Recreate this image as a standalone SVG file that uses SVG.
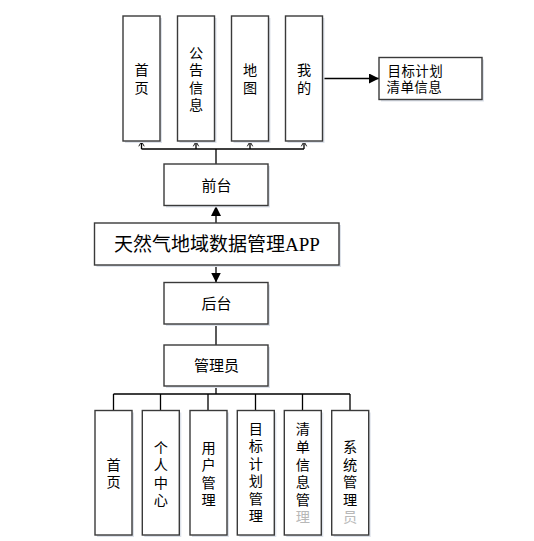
<svg xmlns="http://www.w3.org/2000/svg" width="534" height="541" viewBox="0 0 534 541">
<style>
.box{fill:#fff;stroke:#3a3a3a;stroke-width:1.4}
.sh{fill:#dde2ea}
.t{font-family:"Noto Sans CJK SC","Liberation Sans",sans-serif;font-size:15px;fill:#000;text-anchor:middle}
.c{font-family:"Noto Sans CJK SC","Liberation Sans",sans-serif;font-size:14.2px;fill:#000;text-anchor:middle}
.ts{font-family:"Noto Sans CJK SC","Liberation Sans",sans-serif;font-size:13.5px;fill:#000;letter-spacing:0.4px}
.tt{font-family:"Liberation Serif","Noto Sans CJK SC",serif;font-size:19px;fill:#000;text-anchor:middle}
.ln{fill:none;stroke:#000;stroke-width:1.3}
.ghost{fill:#b8b8b8}
</style>
<defs>
<marker id="fa" viewBox="0 0 10 10" refX="10" refY="5" markerWidth="10" markerHeight="10" markerUnits="userSpaceOnUse" orient="auto">
<path d="M0,0 L10,5 L0,10 Z" fill="#000"/>
</marker>
<marker id="oa" viewBox="0 0 10 10" refX="9" refY="5" markerWidth="6" markerHeight="8" markerUnits="userSpaceOnUse" orient="auto">
<path d="M1,0.5 L9,5 L1,9.5" fill="none" stroke="#000" stroke-width="1.5"/>
</marker>
</defs>

<g id="connectors">
<path class="ln" d="M216,164 V149 M141.5,149 H304"/>
<path class="ln" d="M141.5,149 V141.5" marker-end="url(#oa)"/>
<path class="ln" d="M196,149 V141.5" marker-end="url(#oa)"/>
<path class="ln" d="M250,149 V141.5" marker-end="url(#oa)"/>
<path class="ln" d="M304,149 V141.5" marker-end="url(#oa)"/>
<path class="ln" d="M322.5,78.5 H379" marker-end="url(#fa)"/>
<path class="ln" d="M216,223 V206" marker-end="url(#fa)"/>
<path class="ln" d="M216,265 V282.5" marker-end="url(#fa)"/>
<path class="ln" d="M216,324 V345"/>
<path class="ln" d="M216,386 V394 M113.5,394 H350 M113.5,394 V410.5 M160.5,394 V410.5 M208,394 V410.5 M255.5,394 V410.5 M302.5,394 V410.5 M350,394 V410.5"/>
</g>

<g id="n-home">
<rect class="sh" x="125" y="18" width="37" height="125"/>
<rect class="box" x="123" y="16" width="37" height="125"/>
<text class="c"><tspan x="141.5" y="75">首</tspan><tspan x="141.5" y="92.5">页</tspan></text>
</g>
<g id="n-notice">
<rect class="sh" x="179.5" y="18" width="37" height="125"/>
<rect class="box" x="177.5" y="16" width="37" height="125"/>
<text class="c"><tspan x="196" y="57.5">公</tspan><tspan x="196" y="75">告</tspan><tspan x="196" y="92.5">信</tspan><tspan x="196" y="110">息</tspan></text>
</g>
<g id="n-map">
<rect class="sh" x="233.5" y="18" width="37" height="125"/>
<rect class="box" x="231.5" y="16" width="37" height="125"/>
<text class="c"><tspan x="250" y="75">地</tspan><tspan x="250" y="92.5">图</tspan></text>
</g>
<g id="n-mine">
<rect class="sh" x="287.5" y="18" width="37" height="125"/>
<rect class="box" x="285.5" y="16" width="37" height="125"/>
<text class="c"><tspan x="304" y="75">我</tspan><tspan x="304" y="92.5">的</tspan></text>
</g>
<g id="n-plan">
<rect class="sh" x="381" y="59.5" width="103" height="42"/>
<rect class="box" x="379" y="57.5" width="103" height="42"/>
<text class="ts"><tspan x="387.5" y="75.5">目标计划</tspan><tspan x="386.5" y="91.8">清单信息</tspan></text>
</g>
<g id="n-front">
<rect class="sh" x="166" y="166" width="104" height="41.5"/>
<rect class="box" x="164" y="164" width="104" height="41.5"/>
<text class="t" x="216.5" y="190.5">前台</text>
</g>
<g id="n-app">
<rect class="sh" x="96.5" y="225" width="244.5" height="42"/>
<rect class="box" x="94.5" y="223" width="244.5" height="42"/>
<text class="tt" x="217" y="250.5">天然气地域数据管理APP</text>
</g>
<g id="n-back">
<rect class="sh" x="166" y="284.5" width="104" height="41.5"/>
<rect class="box" x="164" y="282.5" width="104" height="41.5"/>
<text class="t" x="216.5" y="309">后台</text>
</g>
<g id="n-admin">
<rect class="sh" x="166" y="347" width="104" height="41"/>
<rect class="box" x="164" y="345" width="104" height="41"/>
<text class="t" x="216.5" y="371">管理员</text>
</g>
<g id="b-home">
<rect class="sh" x="97" y="412.5" width="37" height="124.5"/>
<rect class="box" x="95" y="410.5" width="37" height="124.5"/>
<text class="c"><tspan x="113.5" y="469.7">首</tspan><tspan x="113.5" y="486.9">页</tspan></text>
</g>
<g id="b-center">
<rect class="sh" x="144.3" y="412.5" width="37" height="124.5"/>
<rect class="box" x="142.3" y="410.5" width="37" height="124.5"/>
<text class="c"><tspan x="160.8" y="453.2">个</tspan><tspan x="160.8" y="470.4">人</tspan><tspan x="160.8" y="487.6">中</tspan><tspan x="160.8" y="504.8">心</tspan></text>
</g>
<g id="b-user">
<rect class="sh" x="192" y="412.5" width="37" height="124.5"/>
<rect class="box" x="190" y="410.5" width="37" height="124.5"/>
<text class="c"><tspan x="208.5" y="453.2">用</tspan><tspan x="208.5" y="470.4">户</tspan><tspan x="208.5" y="487.6">管</tspan><tspan x="208.5" y="504.8">理</tspan></text>
</g>
<g id="b-plan">
<rect class="sh" x="239.3" y="412.5" width="37" height="124.5"/>
<rect class="box" x="237.3" y="410.5" width="37" height="124.5"/>
<text class="c"><tspan x="255.8" y="433.7">目</tspan><tspan x="255.8" y="451.2">标</tspan><tspan x="255.8" y="468.7">计</tspan><tspan x="255.8" y="486.2">划</tspan><tspan x="255.8" y="503.7">管</tspan><tspan x="255.8" y="521.2">理</tspan></text>
</g>
<g id="b-list">
<rect class="sh" x="286.3" y="412.5" width="37" height="124.5"/>
<rect class="box" x="284.3" y="410.5" width="37" height="124.5"/>
<text class="c"><tspan x="302.8" y="434.2">清</tspan><tspan x="302.8" y="452.2">单</tspan><tspan x="302.8" y="470.2">信</tspan><tspan x="302.8" y="487.4">息</tspan><tspan x="302.8" y="504.6">管</tspan><tspan x="302.8" y="522.2" class="ghost">理</tspan></text>
</g>
<g id="b-sys">
<rect class="sh" x="333.7" y="412.5" width="37" height="124.5"/>
<rect class="box" x="331.7" y="410.5" width="37" height="124.5"/>
<text class="c"><tspan x="350.2" y="452.2">系</tspan><tspan x="350.2" y="470.2">统</tspan><tspan x="350.2" y="487.4">管</tspan><tspan x="350.2" y="504.6">理</tspan><tspan x="350.2" y="521.8" class="ghost">员</tspan></text>
</g>
</svg>
